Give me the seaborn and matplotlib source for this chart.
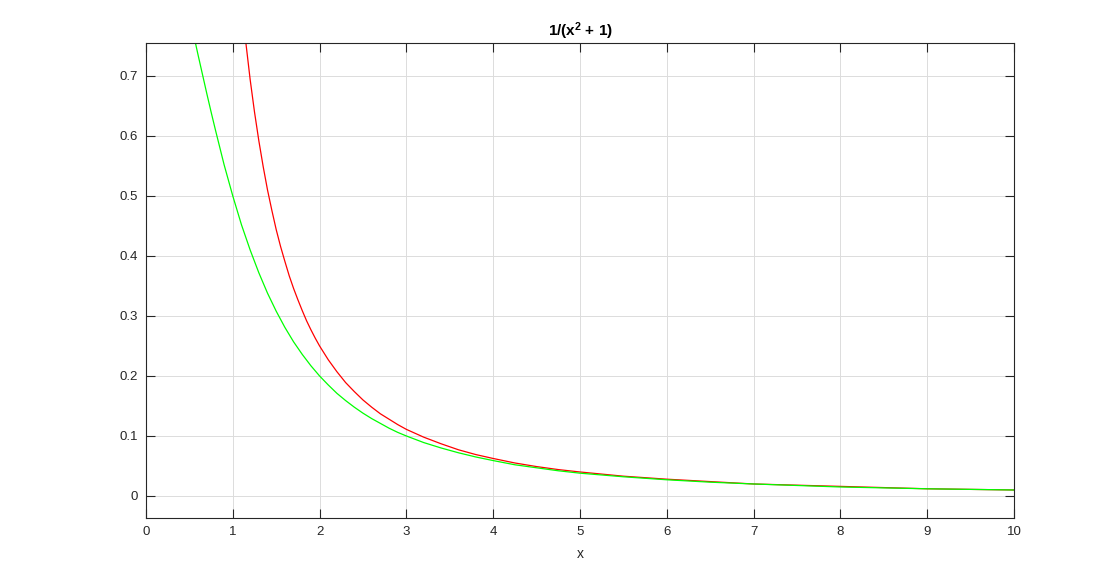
import matplotlib
matplotlib.use('Agg')
import matplotlib.pyplot as plt
import seaborn as sns
import pandas as pd

# 读图得到的数据点
x_green = [0.5, 0.55, 0.6, 0.65, 0.7, 0.75, 0.8, 0.85, 0.9, 0.95, 1.0, 1.1, 1.2, 1.3, 1.4, 1.5,
           1.6, 1.7, 1.8, 1.9, 2.0, 2.1, 2.2, 2.3, 2.4, 2.5, 2.6, 2.7, 2.8, 2.9, 3.0, 3.2, 3.4,
           3.6, 3.8, 4.0, 4.25, 4.5, 4.75, 5.0, 5.5, 6.0, 6.5, 7.0, 8.0, 9.0, 10.0]
y_green = [0.800, 0.768, 0.735, 0.703, 0.671, 0.640, 0.610, 0.581, 0.552, 0.526, 0.500, 0.452,
           0.410, 0.372, 0.338, 0.308, 0.281, 0.257, 0.236, 0.217, 0.200, 0.185, 0.171, 0.159,
           0.148, 0.138, 0.129, 0.121, 0.113, 0.106, 0.100, 0.089, 0.080, 0.072, 0.065, 0.059,
           0.052, 0.047, 0.042, 0.038, 0.032, 0.027, 0.023, 0.020, 0.015, 0.012, 0.010]

x_red = [1.1, 1.15, 1.2, 1.25, 1.3, 1.35, 1.4, 1.45, 1.5, 1.55, 1.6, 1.65, 1.7, 1.75, 1.8,
         1.85, 1.9, 1.95, 2.0, 2.1, 2.2, 2.3, 2.4, 2.5, 2.6, 2.7, 2.8, 2.9, 3.0, 3.2, 3.4, 3.6,
         3.8, 4.0, 4.25, 4.5, 4.75, 5.0, 5.5, 6.0, 6.5, 7.0, 8.0, 9.0, 10.0]
y_red = [0.826, 0.756, 0.694, 0.640, 0.592, 0.549, 0.510, 0.476, 0.444, 0.416, 0.391, 0.367,
         0.346, 0.327, 0.309, 0.292, 0.277, 0.263, 0.250, 0.227, 0.207, 0.189, 0.174, 0.160,
         0.148, 0.137, 0.128, 0.119, 0.111, 0.098, 0.087, 0.077, 0.069, 0.0625, 0.055, 0.049,
         0.044, 0.040, 0.033, 0.028, 0.024, 0.020, 0.016, 0.012, 0.010]

x_ticks = [0, 1, 2, 3, 4, 5, 6, 7, 8, 9, 10]
y_ticks = [0, 0.1, 0.2, 0.3, 0.4, 0.5, 0.6, 0.7]
y_tick_labels = ['0', '0.1', '0.2', '0.3', '0.4', '0.5', '0.6', '0.7']

sns.set_style('white')
plt.rcParams['font.family'] = ['Liberation Sans', 'DejaVu Sans']
plt.rcParams['mathtext.default'] = 'regular'

df_g = pd.DataFrame({'x': x_green, 'y': y_green})
df_r = pd.DataFrame({'x': x_red, 'y': y_red})

fig = plt.figure(figsize=(11.2, 5.82), dpi=100)
ax = fig.add_axes([146 / 1120, 1 - 518 / 582, (1014 - 146) / 1120, (518 - 43) / 582])

sns.lineplot(data=df_r, x='x', y='y', color='#ff0000', linewidth=0.9, sort=False, estimator=None, ax=ax)
sns.lineplot(data=df_g, x='x', y='y', color='#00ff00', linewidth=0.9, sort=False, estimator=None, ax=ax)

ax.set_xlim(0, 10)
ax.set_ylim(-0.0367, 0.755)
ax.set_xticks(x_ticks)
ax.set_yticks(y_ticks)
ax.set_yticklabels(y_tick_labels)
ax.grid(True, color='#dcdcdc', linewidth=0.7)
ax.tick_params(direction='in', length=6.5, width=0.8, colors='#262626', labelsize=9.5,
               top=True, right=True, left=True, bottom=True, pad=6)
for s in ax.spines.values():
    s.set_visible(True)
    s.set_color('#262626')
    s.set_linewidth(0.8)

ax.set_xlabel('x', fontsize=10, color='#262626', labelpad=6)
ax.set_ylabel('')
ax.set_title('1/(x$^2$ + 1)', fontsize=11, fontweight='bold', color='black', pad=5)

fig.savefig('out.png', dpi=100, facecolor='white')
